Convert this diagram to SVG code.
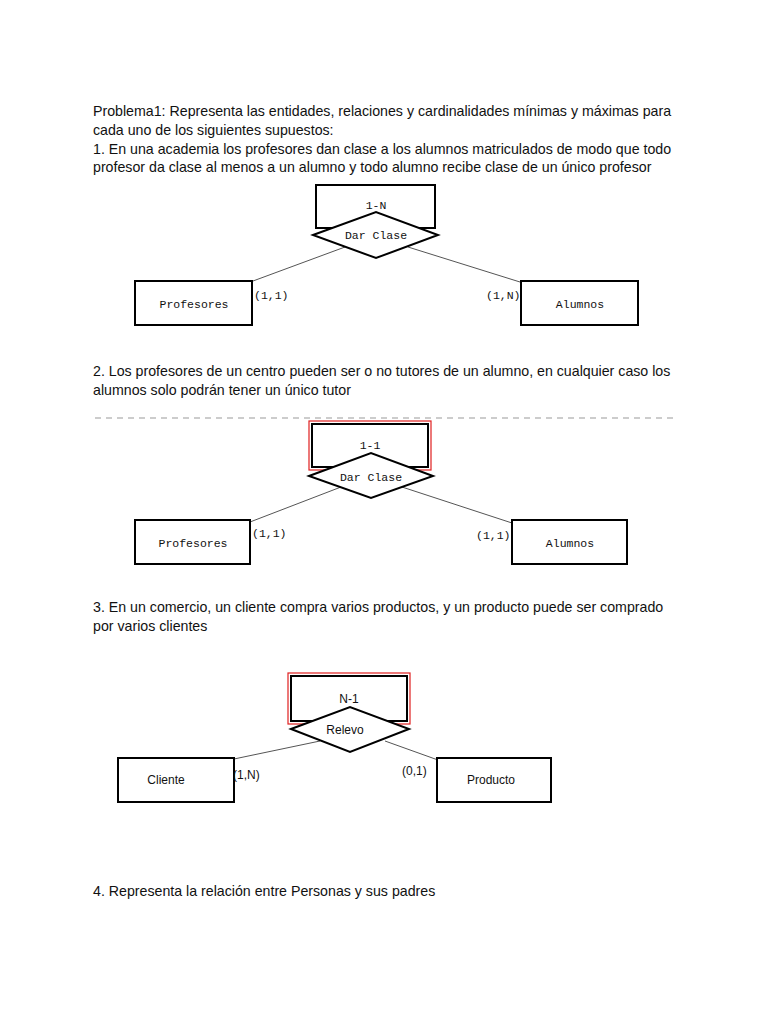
<svg xmlns="http://www.w3.org/2000/svg" width="768" height="1024" viewBox="0 0 768 1024">
<style>
.t{font-family:"Liberation Sans",Arial,sans-serif;font-size:14.2px;fill:#111}
.m{font-family:"Liberation Mono","Courier New",monospace;font-size:11.5px;fill:#111;text-anchor:middle}
.mc{font-family:"Liberation Mono","Courier New",monospace;font-size:11.5px;fill:#111}
.s{font-family:"Liberation Sans",Arial,sans-serif;font-size:12px;fill:#111;text-anchor:middle}
.sc{font-family:"Liberation Sans",Arial,sans-serif;font-size:12px;fill:#111}
.box{fill:#fff;stroke:#000;stroke-width:2}
.dia{fill:#fff;stroke:#000;stroke-width:2}
.red{fill:none;stroke:#e02020;stroke-width:1.2}
.ln{stroke:#555;stroke-width:1;fill:none}
</style>
<rect width="768" height="1024" fill="#fff"/>
<g id="texts">
<text class="t" x="93" y="116">Problema1: Representa las entidades, relaciones y cardinalidades mínimas y máximas para</text>
<text class="t" x="93" y="135">cada uno de los siguientes supuestos:</text>
<text class="t" x="93" y="154">1. En una academia los profesores dan clase a los alumnos matriculados de modo que todo</text>
<text class="t" x="93" y="172">profesor da clase al menos a un alumno y todo alumno recibe clase de un único profesor</text>
<text class="t" x="93" y="376">2. Los profesores de un centro pueden ser o no tutores de un alumno, en cualquier caso los</text>
<text class="t" x="93" y="395">alumnos solo podrán tener un único tutor</text>
<text class="t" x="93" y="612">3. En un comercio, un cliente compra varios productos, y un producto puede ser comprado</text>
<text class="t" x="93" y="631">por varios clientes</text>
<text class="t" x="93" y="896">4. Representa la relación entre Personas y sus padres</text>
</g>
<line x1="95" y1="418" x2="678" y2="418" stroke="#999" stroke-width="1" stroke-dasharray="6,5"/>
<g id="connectors">
<line class="ln" x1="345" y1="247" x2="253" y2="281"/>
<line class="ln" x1="408" y1="247" x2="520" y2="282"/>
<line class="ln" x1="341" y1="487" x2="250" y2="522"/>
<line class="ln" x1="402" y1="487" x2="512" y2="523"/>
<line class="ln" x1="320" y1="741" x2="234" y2="759"/>
<line class="ln" x1="385" y1="741" x2="438" y2="760"/>
</g>
<g id="d1-card">
<rect class="box" x="316" y="185" width="119" height="43"/>
<text class="m" x="376" y="209">1-N</text>
</g>
<g id="d1-rel">
<polygon class="dia" points="313,235 376,212 438,235 376,258"/>
<text class="m" x="376" y="239">Dar Clase</text>
</g>
<g id="d1-prof">
<rect class="box" x="135" y="281" width="117" height="44"/>
<text class="m" x="194" y="308">Profesores</text>
<text class="mc" x="254" y="299">(1,1)</text>
</g>
<g id="d1-alum">
<rect class="box" x="521" y="281" width="117" height="44"/>
<text class="m" x="580" y="308">Alumnos</text>
<text class="mc" x="486" y="299">(1,N)</text>
</g>
<g id="d2-card">
<rect class="red" x="309" y="421" width="122" height="49"/>
<rect class="box" x="312" y="424" width="116" height="43"/>
<text class="m" x="370" y="449">1-1</text>
</g>
<g id="d2-rel">
<polygon class="dia" points="309,476 371,453 433,476 371,498"/>
<text class="m" x="371" y="481">Dar Clase</text>
</g>
<g id="d2-prof">
<rect class="box" x="135" y="520" width="115" height="44"/>
<text class="m" x="193" y="547">Profesores</text>
<text class="mc" x="252" y="537">(1,1)</text>
</g>
<g id="d2-alum">
<rect class="box" x="512" y="520" width="115" height="44"/>
<text class="m" x="570" y="547">Alumnos</text>
<text class="mc" x="476" y="539">(1,1)</text>
</g>
<g id="d3-card">
<rect class="red" x="288" y="673" width="122" height="51"/>
<rect class="box" x="291" y="676" width="116" height="45"/>
<text class="s" x="349" y="703">N-1</text>
</g>
<g id="d3-rel">
<polygon class="dia" points="291,729 350,707 409,729 350,752"/>
<text class="s" x="345" y="734">Relevo</text>
</g>
<g id="d3-cli">
<rect class="box" x="118" y="758" width="116" height="44"/>
<text class="s" x="166" y="784">Cliente</text>
<text class="sc" x="233" y="779">(1,N)</text>
</g>
<g id="d3-prod">
<rect class="box" x="437" y="758" width="114" height="44"/>
<text class="s" x="491" y="784">Producto</text>
<text class="sc" x="402" y="775">(0,1)</text>
</g>
</svg>
